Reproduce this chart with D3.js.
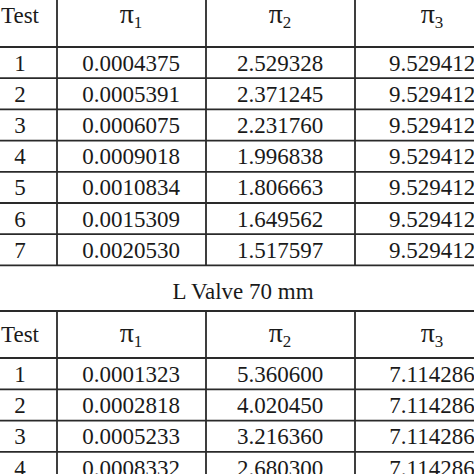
<!DOCTYPE html>
<html><head><meta charset="utf-8">
<script src="https://cdn.jsdelivr.net/npm/d3@7"></script>
<style>body{margin:0;background:#fff}svg{display:block}</style></head>
<body><svg id="c" width="474" height="474"></svg>
<script>
const headers = ["Test","π1","π2","π3"];
const table1Tests = ["1","2","3","4","5","6","7"];
const table1Pi1 = ["0.0004375","0.0005391","0.0006075","0.0009018","0.0010834","0.0015309","0.0020530"];
const table1Pi2 = ["2.529328","2.371245","2.231760","1.996838","1.806663","1.649562","1.517597"];
const table1Pi3 = ["9.529412","9.529412","9.529412","9.529412","9.529412","9.529412","9.529412"];
const caption2 = "L Valve 70 mm";
const table2Tests = ["1","2","3","4"];
const table2Pi1 = ["0.0001323","0.0002818","0.0005233","0.0008332"];
const table2Pi2 = ["5.360600","4.020450","3.216360","2.680300"];
const table2Pi3 = ["7.114286","7.114286","7.114286","7.114286"];

const svg = d3.select("#c");
const font = "Liberation Serif, Times New Roman, serif";
const colX = [-16, 57, 206, 355, 505];
const colC = [20, 131, 280, 432];
const lineColor = "#2a2a2a";
const fs = 23;

function drawTable(top, headerBottom, rowH, tests, p1, p2, p3) {
  const n = tests.length;
  const lines = [top, headerBottom];
  for (let i = 1; i <= n; i++) lines.push(headerBottom + i*rowH);
  const g = svg.append("g");
  g.selectAll("line.h").data(lines.filter(y => y >= 0 && y <= 474)).join("line")
    .attr("x1", 0).attr("x2", 474).attr("y1", d=>d).attr("y2", d=>d)
    .attr("stroke", lineColor).attr("stroke-width", 1.8);
  const bottom = Math.min(474, headerBottom + n*rowH);
  g.selectAll("line.v").data(colX.slice(1,4)).join("line")
    .attr("x1", d=>d).attr("x2", d=>d).attr("y1", Math.max(0, top)).attr("y2", bottom)
    .attr("stroke", lineColor).attr("stroke-width", 1.8);
  const hy = (Math.max(top, -15) + headerBottom)/2 + 7;
  headers.forEach((h, j) => {
    const t = g.append("text").attr("x", colC[j]).attr("y", hy)
      .attr("text-anchor", "middle").attr("font-family", font).attr("fill", "#1a1a1a");
    if (j === 0) { t.attr("font-size", fs).text(h); }
    else {
      t.append("tspan").attr("font-size", 28).text("π");
      t.append("tspan").attr("font-size", 17).attr("dy", 5).text(h.slice(1));
    }
  });
  const rows = tests.map((t, i) => [t, p1[i], p2[i], p3[i]]);
  rows.forEach((r, i) => {
    const y = headerBottom + i*rowH + rowH/2 + 8;
    r.forEach((v, j) => {
      g.append("text").attr("x", colC[j]).attr("y", y).attr("text-anchor", "middle")
        .attr("font-family", font).attr("font-size", fs).attr("fill", "#1a1a1a").text(v);
    });
  });
}

drawTable(-15, 47, 31.2, table1Tests, table1Pi1, table1Pi2, table1Pi3);
svg.append("text").attr("x", 243).attr("y", 299).attr("text-anchor", "middle")
  .attr("font-family", font).attr("font-size", fs).attr("fill", "#1a1a1a").text(caption2);
drawTable(311, 358, 31.3, table2Tests, table2Pi1, table2Pi2, table2Pi3);
</script></body></html>
